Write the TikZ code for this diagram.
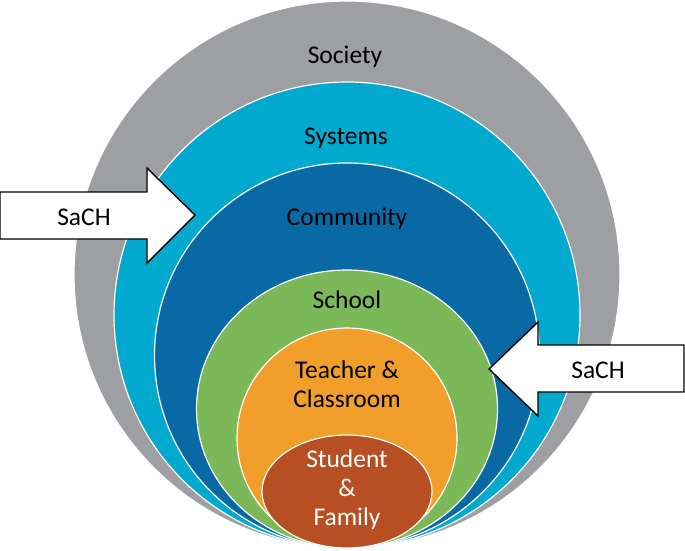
\documentclass[tikz,border=0pt]{standalone}
\usepackage{fontspec}
\setmainfont{Carlito}
\usetikzlibrary{shapes.geometric}
\definecolor{societygray}{HTML}{9D9FA2}
\definecolor{systemsblue}{HTML}{02A9CE}
\definecolor{communityblue}{HTML}{0869A5}
\definecolor{schoolgreen}{HTML}{7BB857}
\definecolor{teacherorange}{HTML}{F29E2B}
\definecolor{studentbrown}{HTML}{B84F22}
\tikzset{
  ring/.style={ellipse,draw=white,line width=1.2pt,inner sep=0pt},
  lbl/.style={font=\fontsize{25.5}{29}\selectfont,align=center,text=black},
  sacharrow/.style={draw=black,fill=white,line width=1.4pt,line join=miter},
}
\begin{document}
\begin{tikzpicture}[x=1pt,y=-1pt]
  \useasboundingbox (0,0) rectangle (685,550);
  % nested rings, all touching at the bottom
  \node[ring,fill=societygray,minimum width=546pt,minimum height=547pt] (society) at (347,274.5) {};
  \node[ring,fill=systemsblue,minimum width=466pt,minimum height=466pt] (systems) at (347,315) {};
  \node[ring,fill=communityblue,minimum width=385pt,minimum height=385pt] (community) at (347,355.5) {};
  \node[ring,fill=schoolgreen,minimum width=301pt,minimum height=278pt] (school) at (347,409) {};
  \node[ring,fill=teacherorange,minimum width=220pt,minimum height=220pt] (teacher) at (347,438) {};
  \node[ring,fill=studentbrown,minimum width=170pt,minimum height=113pt] (student) at (347,491.5) {};
  % ring labels
  \node[lbl,anchor=base] (societytxt) at (345,63) {Society};
  \node[lbl,anchor=base] (systemstxt) at (346,144) {Systems};
  \node[lbl,anchor=base] (communitytxt) at (347,225) {Community};
  \node[lbl,anchor=base] (schooltxt) at (347,308) {School};
  \node[lbl] (teachertxt) at (347,384) {Teacher \&\\Classroom};
  \node[lbl,text=white] (studenttxt) at (347,490) {Student\\\&\\Family};
  % arrows
  \draw[sacharrow] (0,192) -- (147,192) -- (147,168) -- (195,215) -- (147,263) -- (147,239) -- (0,239) -- cycle;
  \draw[sacharrow] (684,345) -- (538,345) -- (538,322) -- (489,369) -- (538,416) -- (538,392) -- (684,392) -- cycle;
  \node[lbl,anchor=base] (sachleft) at (84,225) {SaCH};
  \node[lbl,anchor=base] (sachright) at (598,378) {SaCH};
\end{tikzpicture}
\end{document}
